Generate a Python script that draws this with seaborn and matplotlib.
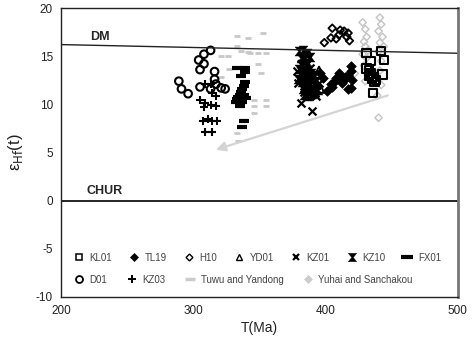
import numpy as np
import pandas as pd
import matplotlib
matplotlib.use("Agg")
import matplotlib.pyplot as plt
from matplotlib.lines import Line2D
from matplotlib.path import Path
import seaborn as sns

sns.set_theme(style="white")
plt.rcParams['font.family'] = ['Liberation Sans', 'DejaVu Sans']
plt.rcParams['axes.unicode_minus'] = False

# ---------------- data ----------------
kl01_x = [431, 434, 431, 433, 434, 436, 438, 436, 442, 444, 443, 437, 433, 435]
kl01_y = [15.3, 14.5, 13.7, 13.5, 13.2, 12.8, 12.5, 11.2, 15.5, 14.6, 13.1, 12.3, 13.0, 12.6]

tl19_x = [401, 404, 406, 408, 411, 414, 417, 419, 420, 419, 417, 415, 410, 396, 398, 412, 405, 419]
tl19_y = [11.4, 12.1, 12.3, 12.7, 12.8, 12.5, 13.0, 13.5, 12.5, 11.7, 11.6, 12.8, 13.3, 13.2, 12.7, 12.2, 11.8, 14.0]

h10_x = [399, 404, 405, 408, 411, 410, 417, 418, 416, 414]
h10_y = [16.4, 16.9, 17.9, 16.8, 17.7, 17.2, 17.4, 16.6, 17.0, 17.6]

yd01_x = [386, 390, 392, 395, 388, 393, 396, 385]
yd01_y = [12.3, 12.8, 11.2, 13.5, 11.0, 12.0, 11.6, 11.6]

kz01_x = [381, 385, 379, 383, 388, 390, 386, 393, 381, 390, 384, 395, 378]
kz01_y = [14.2, 15.1, 12.2, 13.2, 13.8, 11.8, 12.5, 10.9, 10.1, 9.3, 11.3, 12.2, 13.5]

kz10_x = [380, 383, 386, 381, 384, 388, 382, 385, 387, 380, 383, 386, 389, 381, 384, 387,
          390, 382, 385, 388, 391, 383, 386, 389, 392, 384, 387, 390, 393, 379, 394, 391]
kz10_y = [15.5, 15.6, 15.3, 14.8, 14.6, 14.9, 14.2, 14.0, 14.3, 13.7, 13.5, 13.6, 13.2, 13.0, 12.8, 12.9,
          12.6, 12.3, 12.0, 12.2, 12.0, 11.6, 11.4, 11.5, 11.3, 11.0, 10.9, 11.1, 12.4, 12.6, 11.5, 13.0]

fx01_x = [333, 339, 339, 336, 339, 338, 337, 336, 335, 334, 333, 336, 332, 337, 340, 338, 335, 338, 337]
fx01_y = [13.8, 13.8, 13.4, 12.9, 12.3, 11.9, 11.6, 11.3, 11.0, 10.8, 10.6, 10.4, 10.2, 10.2, 10.7, 11.0, 9.8, 8.3, 7.6]

d01_x = [313, 308, 304, 308, 305, 316, 289, 291, 296, 305, 316, 317, 321, 324, 313]
d01_y = [15.6, 15.2, 14.6, 14.2, 13.6, 13.4, 12.4, 11.6, 11.1, 11.8, 12.6, 12.1, 11.7, 11.6, 11.6]

kz03_x = [309, 313, 314, 317, 305, 309, 313, 317, 308, 307, 311, 314, 318, 309, 314]
kz03_y = [12.1, 12.1, 11.2, 10.9, 10.4, 10.1, 9.9, 9.8, 9.7, 8.3, 8.5, 8.3, 8.3, 7.1, 7.1]

tuwu_x = [333, 341, 353, 333, 336, 341, 343, 349, 355, 321, 326, 349, 327, 351, 321, 346, 355, 346, 355, 346, 333, 334]
tuwu_y = [17.1, 16.9, 17.4, 16.1, 15.5, 15.4, 15.3, 15.3, 15.3, 15.0, 15.0, 14.2, 13.7, 13.3, 12.8, 10.4, 10.4, 9.8, 9.8, 9.1, 7.0, 6.2]

yuhai_x = [428, 430, 431, 429, 430, 432, 428, 431, 429, 422, 430,
           441, 442, 440, 443, 441, 444, 440, 442, 441, 439, 440, 442]
yuhai_y = [18.5, 17.8, 17.0, 16.5, 16.0, 15.6, 15.2, 14.8, 14.0, 13.2, 12.4,
           19.0, 18.3, 17.6, 17.0, 16.4, 16.0, 15.5, 14.5, 13.5, 10.9, 8.6, 12.0]

dm_x = [200, 500]
dm_y = [16.2, 15.3]
arrow_start = (449, 11.0)
arrow_end = (315, 5.2)

# ---------------- figure ----------------
fig = plt.figure(figsize=(4.74, 3.48), dpi=100)
ax = fig.add_axes([0.129, 0.147, 0.837, 0.830])

hourglass = Path([(-1, 1), (1, 1), (0.18, 0), (1, -1), (-1, -1), (-0.18, 0), (-1, 1)],
                 [Path.MOVETO] + [Path.LINETO] * 5 + [Path.CLOSEPOLY])

# reference lines
sns.lineplot(x=dm_x, y=dm_y, ax=ax, color='#222222', lw=1.0)
ax.axhline(0, color='black', lw=1.2)

ax.annotate('', xy=arrow_end, xytext=arrow_start,
            arrowprops=dict(arrowstyle='-|>', color='#d4d4d4', lw=1.6, mutation_scale=14))

# background series
sns.scatterplot(x=tuwu_x, y=tuwu_y, ax=ax, marker='_', s=22, color='#c8c8c8', linewidth=2.0)
sns.scatterplot(x=yuhai_x, y=yuhai_y, ax=ax, marker='D', s=14, facecolor='none',
                edgecolor='#c4c4c4', linewidth=1.0)

# main series
sns.scatterplot(x=fx01_x, y=fx01_y, ax=ax, marker='_', s=55, color='black', linewidth=3.0)
sns.scatterplot(x=kz03_x, y=kz03_y, ax=ax, marker='+', s=38, color='black', linewidth=1.5)
sns.scatterplot(x=d01_x, y=d01_y, ax=ax, marker='o', s=30, facecolor='none',
                edgecolor='black', linewidth=1.5)
sns.scatterplot(x=kz10_x, y=kz10_y, ax=ax, marker=hourglass, s=42, color='black', linewidth=0.3, edgecolor='black')
sns.scatterplot(x=kz01_x, y=kz01_y, ax=ax, marker='x', s=32, color='black', linewidth=1.6)
sns.scatterplot(x=yd01_x, y=yd01_y, ax=ax, marker='^', s=32, facecolor='none',
                edgecolor='black', linewidth=1.4)
sns.scatterplot(x=tl19_x, y=tl19_y, ax=ax, marker='D', s=24, color='black', edgecolor='black', linewidth=0.5)
sns.scatterplot(x=h10_x, y=h10_y, ax=ax, marker='D', s=15, facecolor='none',
                edgecolor='black', linewidth=1.3)
sns.scatterplot(x=kl01_x, y=kl01_y, ax=ax, marker='s', s=36, facecolor='none',
                edgecolor='black', linewidth=1.5)

# text labels
ax.text(229, 17.0, 'DM', fontsize=9, fontweight='bold', ha='center', va='center')
ax.text(233, 1.0, 'CHUR', fontsize=9, fontweight='bold', ha='center', va='center')

# axes
ax.set_xlim(200, 500)
ax.set_ylim(-10, 20)
ax.set_xticks([200, 300, 400, 500])
ax.set_yticks([-10, -5, 0, 5, 10, 15, 20])
ax.set_xticks(np.arange(200, 501, 10), minor=True)
ax.set_yticks(np.arange(-10, 21, 1), minor=True)
ax.tick_params(axis='both', which='major', direction='in', length=4, width=0.8,
               labelsize=8.5, colors='#222222', pad=6)
ax.tick_params(axis='both', which='minor', direction='in', length=2.5, width=0.6, colors='#222222')
for s in ['left', 'bottom', 'top']:
    ax.spines[s].set_color('#222222')
    ax.spines[s].set_linewidth(1.0)
ax.spines['right'].set_color('#777777')
ax.spines['right'].set_linewidth(2.0)

ax.set_xlabel('T(Ma)', fontsize=10, color='#222222', labelpad=3)
ax.set_ylabel('ε$_{\\rm Hf}$(t)', fontsize=12, color='#222222', labelpad=8)

# legends
def h(marker, ms, mfc, mec, mew, color='black'):
    return Line2D([], [], ls='none', marker=marker, markersize=ms, markerfacecolor=mfc,
                  markeredgecolor=mec, markeredgewidth=mew, color=color)

row1 = [h('s', 5, 'none', 'black', 1.1), h('D', 4, 'black', 'black', 0.5), h('D', 3.5, 'none', 'black', 1.0),
        h('^', 5, 'none', 'black', 1.0), h('x', 5, 'none', 'black', 1.6), h(hourglass, 6, 'black', 'black', 0.3),
        h('_', 8, 'none', 'black', 3.0)]
labels1 = ['KL01', 'TL19', 'H10', 'YD01', 'KZ01', 'KZ10', 'FX01']
row2 = [h('o', 5, 'none', 'black', 1.3), h('+', 6, 'none', 'black', 1.4), h('_', 7, 'none', '#cccccc', 2.5),
        h('D', 4.5, '#cccccc', '#cccccc', 0.5)]
labels2 = ['D01', 'KZ03', 'Tuwu and Yandong', 'Yuhai and Sanchakou']

leg1 = ax.legend(row1, labels1, ncol=7, frameon=False, loc='center left',
                 bbox_to_anchor=(0.023, 0.135), fontsize=7, handlelength=1.0,
                 handletextpad=0.6, columnspacing=1.75, borderaxespad=0)
for t in leg1.get_texts():
    t.set_color('#444444')
ax.add_artist(leg1)
leg2 = ax.legend(row2, labels2, ncol=4, frameon=False, loc='center left',
                 bbox_to_anchor=(0.023, 0.059), fontsize=7, handlelength=1.0,
                 handletextpad=0.6, columnspacing=2.0, borderaxespad=0)
for t in leg2.get_texts():
    t.set_color('#444444')

fig.savefig('out.png', dpi=100)
